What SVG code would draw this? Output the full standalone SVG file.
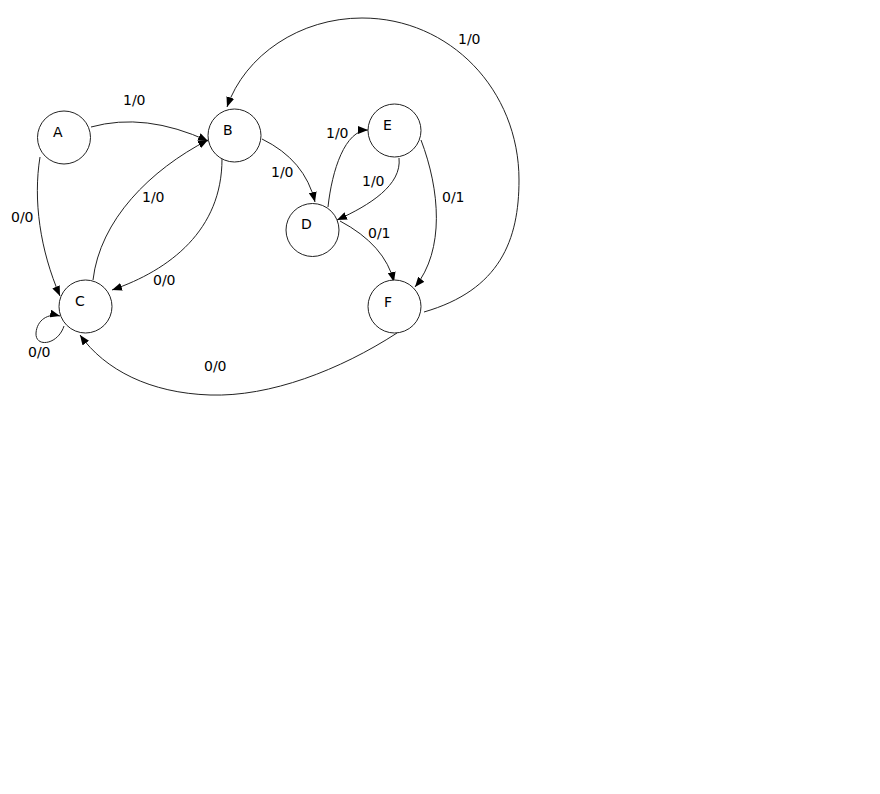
<svg xmlns="http://www.w3.org/2000/svg" width="880" height="794" viewBox="0 0 880 794">
<defs>
<marker id="ah" viewBox="0 0 10 8" refX="10" refY="4" markerWidth="10" markerHeight="8" markerUnits="userSpaceOnUse" orient="auto">
<path d="M0,0 L10,4 L0,8 z" fill="#000"/>
</marker>
</defs>
<style>
.n{fill:#fff;stroke:#222;stroke-width:1}
.e{fill:none;stroke:#222;stroke-width:1;marker-end:url(#ah)}
text{font-family:"DejaVu Sans",Verdana,sans-serif;font-size:14px;fill:#000}
</style>
<rect width="880" height="794" fill="#fff"/>
<g id="connectors">
<path class="e" d="M91,127 Q145,112 208,141"/>
<path class="e" d="M40,157 C33,200 40,250 60,296"/>
<path class="e" d="M93,280 C100,220 150,170 208,140"/>
<path class="e" d="M222,159 C222,230 170,270 112,290"/>
<path class="e" d="M64,326 C58,345 35,348 36,333 C37,320 48,313 60,316"/>
<path class="e" d="M262,139 Q305,160 315,202"/>
<path class="e" d="M328,207 C332,170 345,130 368,130"/>
<path class="e" d="M399,158 C402,185 370,205 337,220"/>
<path class="e" d="M340,221 Q385,245 394,282"/>
<path class="e" d="M421,140 C440,190 445,250 415,287"/>
<path class="e" d="M424,312 C500,290 519,240 519,180 C519,90 450,18 362,18 C300,18 245,55 227,107"/>
<path class="e" d="M397,333 C340,370 270,397 210,395 C150,393 105,370 80,335"/>
<text x="123" y="105">1/0</text>
<text x="11" y="222">0/0</text>
<text x="142" y="202">1/0</text>
<text x="153" y="285">0/0</text>
<text x="28" y="357">0/0</text>
<text x="204" y="371">0/0</text>
<text x="271" y="177">1/0</text>
<text x="326" y="138">1/0</text>
<text x="362" y="186">1/0</text>
<text x="368" y="238">0/1</text>
<text x="442" y="202">0/1</text>
<text x="458" y="44">1/0</text>
</g>
<g id="A"><circle class="n" cx="64" cy="137.5" r="26.5"/><text x="53" y="137">A</text></g>
<g id="B"><circle class="n" cx="234.5" cy="135.5" r="26.5"/><text x="223" y="135">B</text></g>
<g id="C"><circle class="n" cx="85.5" cy="306.5" r="26.5"/><text x="75" y="306">C</text></g>
<g id="D"><circle class="n" cx="312.5" cy="230" r="26.5"/><text x="301" y="229">D</text></g>
<g id="E"><circle class="n" cx="394.5" cy="130.5" r="26.5"/><text x="383" y="130">E</text></g>
<g id="F"><circle class="n" cx="394.5" cy="306.5" r="26.5"/><text x="384" y="307">F</text></g>
</svg>
